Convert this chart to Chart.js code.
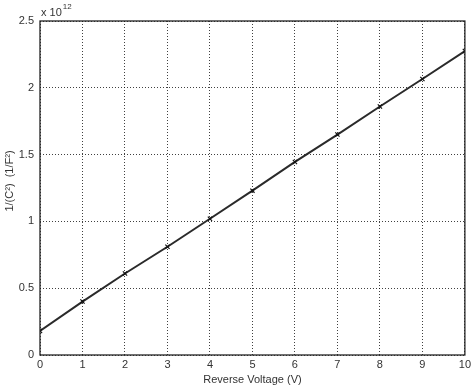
<!DOCTYPE html>
<html>
<head>
<meta charset="utf-8">
<script src="https://cdn.jsdelivr.net/npm/chart.js@4/dist/chart.umd.min.js"></script>
<style>
html,body{margin:0;padding:0;background:#fff;}
#wrap{width:474px;height:389px;position:relative;}
</style>
</head>
<body>
<div id="wrap"><canvas id="c" width="474" height="389"></canvas></div>
<script>
const voltages = [0, 1, 2, 3, 4, 5, 6, 7, 8, 9, 10];
const invC2 = [0.18, 0.40, 0.61, 0.81, 1.02, 1.23, 1.445, 1.65, 1.86, 2.066, 2.275];
const xTicks = [0, 1, 2, 3, 4, 5, 6, 7, 8, 9, 10];
const yTicks = [0, 0.5, 1, 1.5, 2, 2.5];
const xTitle = 'Reverse Voltage (V)';
const yTitle = '1/(C²)  (1/F²)';
const expLabel = 'x 10';
const expPower = '12';

const FONT = 'Liberation Sans, Arial, sans-serif';
const INK = '#333';

const boxPlugin = {
  id: 'box',
  afterDraw(chart) {
    const {ctx, chartArea: a} = chart;
    ctx.save();
    ctx.strokeStyle = '#222';
    ctx.lineWidth = 1.3;
    ctx.strokeRect(a.left, a.top, a.right - a.left, a.bottom - a.top);
    ctx.fillStyle = INK;
    ctx.font = '11px ' + FONT;
    ctx.textBaseline = 'alphabetic';
    ctx.textAlign = 'left';
    ctx.fillText(expLabel, a.left + 1, a.top - 5);
    const w = ctx.measureText(expLabel).width;
    ctx.font = '8px ' + FONT;
    ctx.fillText(expPower, a.left + 2 + w, a.top - 12);
    ctx.font = '11px ' + FONT;
    ctx.translate(10, 181);
    ctx.rotate(-Math.PI / 2);
    ctx.textAlign = 'center';
    ctx.textBaseline = 'middle';
    ctx.fillText(yTitle, 0, 0);
    ctx.restore();
  }
};

new Chart(document.getElementById('c'), {
  type: 'line',
  data: {
    datasets: [{
      data: voltages.map((v, i) => ({x: v, y: invC2[i]})),
      borderColor: '#2a2a2a',
      borderWidth: 2,
      pointStyle: 'crossRot',
      pointRadius: 3,
      pointBorderColor: '#111',
      pointBorderWidth: 1.2,
      pointBackgroundColor: '#111',
      tension: 0,
      fill: false
    }]
  },
  options: {
    responsive: false,
    animation: false,
    devicePixelRatio: 1,
    layout: {padding: {left: 0, right: 6, top: 21, bottom: 0}},
    plugins: {legend: {display: false}, tooltip: {enabled: false}},
    scales: {
      x: {
        type: 'linear',
        min: 0, max: 10,
        afterFit(s) { s.height = 34; },
        afterBuildTicks(s) { s.ticks = xTicks.map(v => ({value: v})); },
        grid: {color: 'rgba(0,0,0,0.75)', lineWidth: 1, drawTicks: false},
        border: {display: false, dash: [1, 2]},
        ticks: {color: INK, font: {family: FONT, size: 11}, padding: 3, maxRotation: 0,
                callback: v => String(v)},
        title: {display: true, text: xTitle, color: INK, font: {family: FONT, size: 11}, padding: {top: 0, bottom: 2}}
      },
      y: {
        type: 'linear',
        min: 0, max: 2.5,
        afterFit(s) { s.width = 40; },
        afterBuildTicks(s) { s.ticks = yTicks.map(v => ({value: v})); },
        grid: {color: 'rgba(0,0,0,0.75)', lineWidth: 1, drawTicks: false},
        border: {display: false, dash: [1, 2]},
        ticks: {color: INK, font: {family: FONT, size: 11}, padding: 6,
                callback: v => String(v)}
      }
    }
  },
  plugins: [boxPlugin]
});
</script>
</body>
</html>
